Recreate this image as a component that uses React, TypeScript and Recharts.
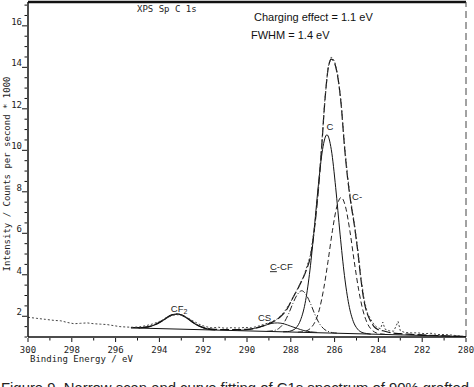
import { LineChart, Line, XAxis, YAxis, ReferenceLine, ReferenceDot } from 'recharts';

// measured C1s spectrum (binding energy / intensity *1000)
const MEAS_E = [300.0, 299.6, 299.2, 298.8, 298.5, 298.2, 297.9, 297.6, 297.3, 297.0, 296.7, 296.4, 296.1, 295.8, 295.5, 295.2, 294.9, 294.6, 294.3, 294.0, 293.7, 293.4, 293.1, 292.8, 292.5, 292.2, 291.9, 291.6, 291.3, 291.0, 290.7, 290.4, 290.1, 289.8, 289.5, 289.2, 288.9, 288.6, 288.3, 288.0, 287.7, 287.4, 287.1, 286.9, 286.75, 286.6, 286.45, 286.3, 286.15, 286.0, 285.85, 285.7, 285.55, 285.4, 285.25, 285.1, 284.95, 284.8, 284.65, 284.5, 284.35, 284.2, 284.05, 283.9, 283.8, 283.7, 283.5, 283.3, 283.1, 283.0, 282.8, 282.5, 282.2, 281.9, 281.6, 281.3, 281.0, 280.7, 280.4, 280.0];
const MEAS_I = [1.95, 1.9, 1.85, 1.8, 1.78, 1.7, 1.64, 1.66, 1.68, 1.64, 1.62, 1.6, 1.55, 1.5, 1.48, 1.47, 1.49, 1.55, 1.63, 1.75, 1.9, 2.05, 2.08, 1.97, 1.8, 1.62, 1.5, 1.44, 1.47, 1.42, 1.45, 1.43, 1.46, 1.44, 1.52, 1.62, 1.72, 1.88, 2.2, 2.7, 3.3, 3.95, 4.95, 6.45, 8.0, 10.1, 12.4, 14.0, 14.5, 14.3, 13.6, 12.3, 10.3, 8.7, 7.5, 6.5, 5.3, 3.9, 2.8, 2.15, 1.85, 1.6, 1.45, 1.4, 1.72, 1.38, 1.3, 1.28, 1.75, 1.3, 1.22, 1.2, 1.2, 1.16, 1.18, 1.12, 1.12, 1.1, 1.06, 1.02];

// fitted envelope
const FIT_E = [295.3, 294.9, 294.5, 294.2, 293.95, 293.7, 293.45, 293.2, 292.95, 292.7, 292.45, 292.2, 291.95, 291.6, 291.2, 290.8, 290.4, 290.0, 289.7, 289.4, 289.1, 288.8, 288.5, 288.2, 287.9, 287.6, 287.3, 287.1, 286.9, 286.75, 286.6, 286.45, 286.3, 286.15, 286.0, 285.85, 285.7, 285.55, 285.4, 285.25, 285.1, 284.95, 284.8, 284.65, 284.5, 284.35, 284.2, 284.0, 283.8, 283.4, 283.0, 282.5, 282.0, 281.0, 280.0];
const FIT_I = [1.45, 1.45, 1.5, 1.6, 1.74, 1.91, 2.06, 2.11, 2.05, 1.89, 1.7, 1.54, 1.44, 1.38, 1.36, 1.36, 1.36, 1.37, 1.41, 1.49, 1.6, 1.74, 1.95, 2.3, 2.9, 3.5, 4.2, 4.9, 6.4, 8.0, 10.0, 12.3, 13.9, 14.4, 14.2, 13.5, 12.2, 10.2, 8.6, 7.4, 6.4, 5.2, 3.8, 2.7, 2.1, 1.75, 1.5, 1.35, 1.3, 1.2, 1.16, 1.13, 1.1, 1.06, 1.02];

// fitted components
const C_E = [284.35, 284.55, 284.75, 284.95, 285.15, 285.35, 285.55, 285.75, 285.95, 286.15, 286.35, 286.55, 286.75, 286.95, 287.15, 287.35, 287.55, 287.75, 287.95, 288.15, 288.35];
const C_I = [1.14, 1.17, 1.22, 1.38, 1.76, 2.56, 3.96, 5.96, 8.2, 10.03, 10.75, 10.04, 8.23, 5.99, 4.01, 2.61, 1.83, 1.45, 1.31, 1.26, 1.25];

const CM_E = [283.7, 283.9, 284.1, 284.3, 284.5, 284.7, 284.9, 285.1, 285.3, 285.5, 285.7, 285.9, 286.1, 286.3, 286.5, 286.7, 286.9, 287.1, 287.3, 287.5, 287.7];
const CM_I = [1.13, 1.15, 1.2, 1.34, 1.65, 2.26, 3.27, 4.62, 6.1, 7.27, 7.73, 7.28, 6.12, 4.65, 3.31, 2.31, 1.72, 1.42, 1.29, 1.25, 1.23];

const CCF_E = [285.9, 286.1, 286.3, 286.5, 286.7, 286.9, 287.1, 287.3, 287.5, 287.7, 287.9, 288.1, 288.3, 288.5, 288.7, 288.9, 289.1];
const CCF_I = [1.19, 1.21, 1.27, 1.4, 1.66, 2.09, 2.61, 3.04, 3.23, 3.05, 2.63, 2.12, 1.71, 1.45, 1.33, 1.29, 1.27];

const CS_E = [286.8, 287.1, 287.4, 287.7, 288.0, 288.3, 288.6, 288.9, 289.2, 289.5, 289.8, 290.1, 290.4];
const CS_I = [1.22, 1.25, 1.31, 1.41, 1.52, 1.63, 1.68, 1.65, 1.55, 1.46, 1.38, 1.34, 1.32];

const CF2_E = [291.45, 291.7, 291.95, 292.2, 292.45, 292.7, 292.95, 293.2, 293.45, 293.7, 293.95, 294.2, 294.45, 294.7, 294.95];
const CF2_I = [1.35, 1.37, 1.43, 1.53, 1.69, 1.88, 2.04, 2.1, 2.05, 1.9, 1.73, 1.59, 1.5, 1.46, 1.44];

const BASE_E = [295.3, 280.0];
const BASE_I = [1.44, 1.02];

const X_TICKS = [280, 281, 282, 283, 284, 285, 286, 287, 288, 289, 290, 291, 292, 293, 294, 295, 296, 297, 298, 299, 300];
const Y_TICKS = [1, 1.5, 2, 2.5, 3, 3.5, 4, 4.5, 5, 5.5, 6, 6.5, 7, 7.5, 8, 8.5, 9, 9.5, 10, 10.5, 11, 11.5, 12, 12.5, 13, 13.5, 14, 14.5, 15, 15.5, 16, 16.5, 17];

const zip = (es: number[], is: number[]) => es.map((e, i) => ({ e, v: is[i] }));

const MONO = '"DejaVu Sans Mono", monospace';
const SANS = '"Liberation Sans", Arial, sans-serif';

// recharts hands the tick position already offset by the tick size (6px)
const XTick = (props: any) => {
  const { x, y, payload } = props;
  const major = payload.value % 2 === 0;
  const ay = y - 6;
  return (
    <g>
      <line x1={x} x2={x} y1={ay - 1} y2={ay + (major ? 3 : 1.5)} stroke="#111" strokeWidth={1} />
      {major && (
        <text x={x} y={ay + 14} textAnchor="middle" fontFamily={MONO} fontSize={9} fill="#222">
          {payload.value}
        </text>
      )}
    </g>
  );
};

const YTick = (props: any) => {
  const { x, y, payload } = props;
  const major = payload.value % 2 === 0;
  const ax = x + 6;
  return (
    <g>
      <line x1={ax + 1} x2={ax - (major ? 4 : 1.5)} y1={y} y2={y} stroke="#111" strokeWidth={1} />
      {major && (
        <text x={ax - 4} y={y - 1} textAnchor="end" fontFamily={MONO} fontSize={9} fill="#222">
          {payload.value}
        </text>
      )}
    </g>
  );
};

const PeakLabel = (text: any, anchor = 'middle') => (props: any) => {
  const { viewBox } = props;
  return (
    <text x={viewBox.x} y={viewBox.y} textAnchor={anchor} fontFamily={SANS} fontSize={9.5} fill="#222">
      {text}
    </text>
  );
};

export default function App() {
  return (
    <div style={{ position: 'absolute', left: 0, top: 0, width: 474, height: 387, background: '#fff', overflow: 'hidden' }}>
      <LineChart width={474} height={387} margin={{ top: 2, right: 8, left: 0, bottom: 0 }}>
        <XAxis
          type="number"
          dataKey="e"
          domain={[280, 300]}
          reversed
          ticks={X_TICKS}
          interval={0}
          tick={<XTick />}
          tickLine={false}
          height={50}
          axisLine={{ stroke: '#111', strokeWidth: 1.5 }}
          allowDataOverflow
        />
        <YAxis
          type="number"
          domain={[1, 17.15]}
          ticks={Y_TICKS}
          interval={0}
          tick={<YTick />}
          tickLine={false}
          width={28}
          axisLine={{ stroke: '#111', strokeWidth: 1.5 }}
          allowDataOverflow
        />
        <ReferenceLine y={17.15} stroke="#111" strokeWidth={2.5} />
        <ReferenceLine x={280} stroke="#444" strokeWidth={1} strokeDasharray="7 4" />

        <Line data={zip(BASE_E, BASE_I)} dataKey="v" stroke="#111" strokeWidth={1} dot={false} isAnimationActive={false} />
        <Line data={zip(CF2_E, CF2_I)} dataKey="v" stroke="#111" strokeWidth={1.3} dot={false} type="monotone" isAnimationActive={false} />
        <Line data={zip(CS_E, CS_I)} dataKey="v" stroke="#222" strokeWidth={1} dot={false} type="monotone" isAnimationActive={false} />
        <Line data={zip(CCF_E, CCF_I)} dataKey="v" stroke="#222" strokeWidth={1} strokeDasharray="6 2 1 2" dot={false} type="monotone" isAnimationActive={false} />
        <Line data={zip(CM_E, CM_I)} dataKey="v" stroke="#222" strokeWidth={1} strokeDasharray="5 3" dot={false} type="monotone" isAnimationActive={false} />
        <Line data={zip(C_E, C_I)} dataKey="v" stroke="#111" strokeWidth={1} dot={false} type="monotone" isAnimationActive={false} />
        <Line data={zip(FIT_E, FIT_I)} dataKey="v" stroke="#111" strokeWidth={1.2} strokeDasharray="9 3" dot={false} type="monotone" isAnimationActive={false} />
        <Line data={zip(MEAS_E, MEAS_I)} dataKey="v" stroke="#444" strokeWidth={1} strokeDasharray="2 2" dot={false} isAnimationActive={false} />

        <ReferenceDot x={293.1} y={2.2} r={0} label={PeakLabel(<>CF<tspan dy={2} fontSize={7}>2</tspan></>)} />
        <ReferenceDot x={289.2} y={1.76} r={0} label={PeakLabel('CS')} />
        <ReferenceDot x={288.95} y={4.22} r={0} label={PeakLabel(<><tspan textDecoration="underline">C</tspan>-CF</>, 'start')} />
        <ReferenceDot x={286.21} y={10.97} r={0} label={PeakLabel('C')} />
        <ReferenceDot x={285.2} y={7.6} r={0} label={PeakLabel('C-', 'start')} />
      </LineChart>

      <svg width={474} height={387} style={{ position: 'absolute', left: 0, top: 0, pointerEvents: 'none' }}>
        <text x={137} y={12} fontFamily={MONO} fontSize={9} fill="#222">XPS Sp C 1s</text>
        <text x={254} y={21} fontFamily={SANS} fontSize={11} fill="#111">Charging effect = 1.1  eV</text>
        <text x={251} y={39} fontFamily={SANS} fontSize={11} fill="#111">FWHM = 1.4  eV</text>
        <text x={10} y={174} transform="rotate(-90 10 174)" textAnchor="middle" fontFamily={MONO} fontSize={9} fill="#222">
          Intensity / Counts per second * 1000
        </text>
        <text x={30} y={362} fontFamily={MONO} fontSize={9} fill="#222">Binding Energy / eV</text>
        <text x={1} y={393} fontFamily={SANS} fontSize={15} fill="#222" textLength={468} lengthAdjust="spacingAndGlyphs">
          Figure 9. Narrow scan and curve fitting of C1s spectrum of 90% grafted
        </text>
      </svg>
    </div>
  );
}
